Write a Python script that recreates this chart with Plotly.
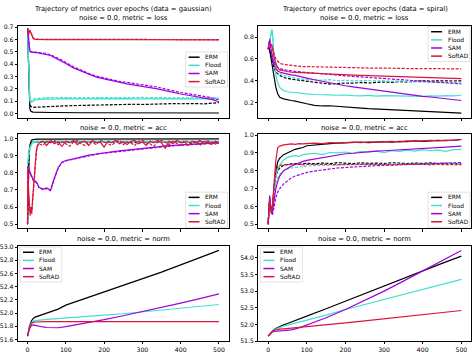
import plotly.graph_objects as go

W, H = 474, 353
FONT = "DejaVu Sans"

METHODS = ["ERM", "Flood", "SAM", "SoftAD"]
COLORS = {"ERM": "#000000", "Flood": "#40E0D0", "SAM": "#9F00DF", "SoftAD": "#DC143C"}

# ---------------- epoch grids ----------------
EPOCHS = [0, 2, 4, 6, 8, 10, 12, 15, 20, 25, 30, 40, 50, 60, 70, 80, 90, 100, 120, 140,
          160, 180, 200, 220, 240, 260, 280, 300, 320, 340, 360, 380, 400, 420, 440, 460, 480, 500]
EPOCHS_FINE = [0, 1, 3, 5, 7, 9, 11, 13, 15, 18, 20, 23, 26] + list(range(30, 501, 10))
EPOCHS_NORM = [0, 5, 10, 15, 20, 30, 40, 50, 60, 80, 100, 150, 200, 250, 300, 350, 400, 450, 500]
X_TICKS = [0, 100, 200, 300, 400, 500]

# ---------------- gaussian / loss ----------------
A_ERM_train = [0.69,0.42,0.12,0.04,0.022,0.016,0.013,0.011,0.010,0.010,0.009,0.009,0.008,0.008,0.008,0.007,0.007,0.007,0.007,0.006,0.006,0.006,0.006,0.006,0.005,0.005,0.005,0.005,0.005,0.005,0.005,0.005,0.005,0.004,0.004,0.004,0.004,0.004]
A_ERM_test = [0.69,0.44,0.15,0.08,0.06,0.053,0.05,0.05,0.051,0.052,0.053,0.055,0.056,0.058,0.057,0.06,0.061,0.062,0.064,0.066,0.065,0.068,0.07,0.072,0.071,0.074,0.075,0.073,0.076,0.078,0.077,0.08,0.079,0.081,0.08,0.078,0.082,0.088]
A_Flood_train = [0.69,0.43,0.18,0.1,0.088,0.092,0.098,0.104,0.11,0.113,0.115,0.117,0.118,0.117,0.119,0.118,0.119,0.12,0.119,0.12,0.118,0.12,0.12,0.119,0.12,0.121,0.119,0.12,0.12,0.119,0.12,0.121,0.119,0.12,0.118,0.117,0.118,0.118]
A_Flood_test = [0.69,0.44,0.2,0.11,0.098,0.104,0.11,0.115,0.12,0.123,0.125,0.127,0.128,0.127,0.129,0.128,0.13,0.128,0.129,0.128,0.13,0.128,0.129,0.128,0.13,0.128,0.129,0.13,0.128,0.128,0.127,0.129,0.127,0.126,0.128,0.126,0.127,0.127]
A_SAM_train = [0.69,0.6,0.53,0.505,0.5,0.498,0.497,0.495,0.494,0.493,0.49,0.487,0.482,0.47,0.455,0.44,0.425,0.405,0.37,0.345,0.315,0.295,0.28,0.265,0.25,0.24,0.23,0.222,0.21,0.2,0.185,0.17,0.158,0.148,0.138,0.13,0.115,0.095]
A_SAM_test = [0.69,0.61,0.54,0.51,0.503,0.5,0.5,0.498,0.497,0.496,0.494,0.49,0.487,0.476,0.462,0.447,0.432,0.413,0.378,0.352,0.323,0.303,0.288,0.274,0.26,0.252,0.243,0.236,0.225,0.214,0.198,0.183,0.17,0.16,0.15,0.142,0.128,0.11]
A_SoftAD_train = [0.69,0.635,0.655,0.672,0.66,0.64,0.622,0.608,0.601,0.6,0.6,0.6,0.599,0.6,0.6,0.599,0.6,0.6,0.6,0.599,0.6,0.6,0.6,0.599,0.6,0.6,0.6,0.6,0.599,0.6,0.6,0.6,0.599,0.6,0.6,0.598,0.598,0.597]
A_SoftAD_test = [0.69,0.64,0.66,0.675,0.662,0.642,0.624,0.61,0.603,0.602,0.602,0.601,0.601,0.602,0.601,0.601,0.602,0.601,0.602,0.601,0.601,0.602,0.601,0.601,0.602,0.601,0.601,0.602,0.601,0.601,0.602,0.601,0.601,0.601,0.6,0.6,0.6,0.599]

# ---------------- spiral / loss ----------------
B_ERM_train = [0.69,0.7,0.68,0.64,0.6,0.57,0.53,0.45,0.34,0.28,0.25,0.235,0.225,0.22,0.215,0.205,0.2,0.19,0.175,0.17,0.172,0.165,0.158,0.155,0.15,0.145,0.142,0.138,0.135,0.132,0.13,0.126,0.122,0.12,0.118,0.115,0.112,0.105]
B_ERM_test = [0.69,0.7,0.68,0.65,0.62,0.59,0.56,0.52,0.48,0.46,0.45,0.43,0.42,0.415,0.41,0.405,0.4,0.4,0.39,0.375,0.37,0.375,0.38,0.378,0.385,0.38,0.388,0.39,0.386,0.392,0.39,0.395,0.4,0.398,0.402,0.4,0.398,0.4]
B_Flood_train = [0.69,0.72,0.76,0.8,0.85,0.87,0.8,0.62,0.45,0.38,0.34,0.31,0.3,0.295,0.29,0.285,0.28,0.28,0.275,0.27,0.272,0.268,0.27,0.265,0.262,0.266,0.26,0.264,0.262,0.258,0.262,0.26,0.258,0.262,0.26,0.265,0.263,0.268]
B_Flood_test = [0.69,0.72,0.76,0.8,0.84,0.86,0.8,0.64,0.53,0.49,0.47,0.45,0.44,0.43,0.425,0.42,0.415,0.41,0.41,0.405,0.41,0.4,0.405,0.4,0.402,0.398,0.4,0.4,0.395,0.398,0.392,0.39,0.388,0.385,0.386,0.382,0.384,0.38]
B_SAM_train = [0.69,0.74,0.78,0.72,0.66,0.62,0.59,0.55,0.51,0.49,0.48,0.47,0.46,0.455,0.45,0.44,0.435,0.425,0.41,0.395,0.385,0.37,0.355,0.345,0.335,0.325,0.315,0.305,0.295,0.285,0.275,0.268,0.258,0.252,0.245,0.238,0.232,0.22]
B_SAM_test = [0.69,0.74,0.77,0.72,0.67,0.63,0.6,0.57,0.54,0.52,0.51,0.5,0.495,0.49,0.485,0.48,0.478,0.475,0.47,0.462,0.458,0.452,0.445,0.44,0.435,0.43,0.425,0.418,0.412,0.408,0.402,0.398,0.392,0.388,0.385,0.38,0.377,0.372]
B_SoftAD_train = [0.69,0.7,0.71,0.72,0.73,0.72,0.68,0.62,0.56,0.52,0.5,0.49,0.485,0.48,0.478,0.475,0.472,0.47,0.468,0.465,0.462,0.458,0.455,0.452,0.45,0.448,0.446,0.442,0.44,0.44,0.438,0.436,0.435,0.432,0.43,0.428,0.426,0.42]
B_SoftAD_test = [0.69,0.7,0.71,0.72,0.73,0.72,0.69,0.65,0.6,0.58,0.56,0.55,0.545,0.54,0.535,0.532,0.53,0.53,0.528,0.525,0.524,0.522,0.52,0.52,0.518,0.516,0.515,0.516,0.514,0.512,0.513,0.511,0.51,0.512,0.51,0.508,0.51,0.508]

# ---------------- gaussian / acc ----------------
C_ERM_train = [0.5,0.78,0.92,0.96,0.98,0.99,0.993,0.995,0.996,0.997,0.997,0.998,0.998,0.997,0.998,0.998,0.999,0.998,0.999,0.998,0.999,0.999,0.998,0.999,0.999,0.998,0.999,0.999,0.999,0.998,0.999,0.999,0.999,0.999,0.998,0.999,0.999,0.999]
C_ERM_test = [0.5,0.76,0.9,0.95,0.965,0.975,0.978,0.98,0.98,0.982,0.979,0.981,0.98,0.978,0.982,0.98,0.979,0.981,0.98,0.982,0.978,0.98,0.981,0.979,0.982,0.98,0.978,0.981,0.98,0.979,0.982,0.98,0.981,0.978,0.98,0.982,0.979,0.98]
C_Flood_train = [0.85,0.9,0.93,0.95,0.96,0.97,0.975,0.98,0.984,0.985,0.986,0.985,0.986,0.985,0.986,0.987,0.985,0.986,0.986,0.985,0.987,0.986,0.985,0.986,0.987,0.985,0.986,0.986,0.985,0.987,0.986,0.985,0.986,0.987,0.986,0.985,0.986,0.986]
C_Flood_test = [0.85,0.89,0.92,0.94,0.955,0.965,0.97,0.975,0.978,0.98,0.98,0.979,0.981,0.98,0.978,0.98,0.981,0.979,0.98,0.978,0.981,0.98,0.979,0.98,0.981,0.978,0.98,0.979,0.981,0.98,0.98,0.979,0.981,0.98,0.978,0.98,0.981,0.98]
C_SAM_train = [0.84,0.83,0.815,0.8,0.79,0.78,0.77,0.758,0.752,0.74,0.715,0.705,0.712,0.698,0.77,0.83,0.862,0.872,0.882,0.893,0.903,0.91,0.918,0.922,0.928,0.932,0.938,0.942,0.948,0.952,0.958,0.96,0.963,0.966,0.969,0.972,0.974,0.976]
C_SAM_test = [0.84,0.83,0.812,0.798,0.788,0.778,0.768,0.756,0.75,0.738,0.712,0.702,0.708,0.696,0.765,0.826,0.86,0.87,0.88,0.89,0.9,0.908,0.915,0.92,0.926,0.93,0.935,0.94,0.945,0.95,0.955,0.958,0.961,0.964,0.967,0.97,0.972,0.974]
C_SoftAD_train = [0.5,0.83,0.68,0.58,0.56,0.6,0.57,0.64,0.7,0.8,0.86,0.93,0.96,
                  0.975,0.985,0.96,0.99,0.97,0.98,0.955,0.985,0.975,0.99,0.965,0.98,0.985,0.96,0.99,0.975,0.98,0.95,0.985,0.975,
                  0.99,0.97,0.98,0.965,0.985,0.99,0.97,0.98,0.96,0.985,0.975,0.99,0.975,0.945,0.985,0.97,0.99,0.975,0.98,0.96,
                  0.985,0.975,0.99,0.97,0.98,0.965,0.985,0.975]
C_SoftAD_test = [0.5,0.82,0.66,0.57,0.55,0.59,0.56,0.62,0.69,0.79,0.85,0.92,0.955,
                 0.97,0.96,0.985,0.975,0.99,0.965,0.98,0.97,0.955,0.98,0.99,0.97,0.96,0.985,0.975,0.965,0.99,0.98,0.97,0.96,
                 0.98,0.99,0.965,0.98,0.975,0.96,0.985,0.99,0.975,0.97,0.955,0.98,0.99,0.975,0.965,0.985,0.97,0.96,0.99,0.98,
                 0.97,0.985,0.96,0.98,0.99,0.975,0.965,0.985]

# ---------------- spiral / acc ----------------
D_ERM_train = [0.5,0.6,0.63,0.6,0.57,0.58,0.62,0.7,0.8,0.85,0.87,0.89,0.9,0.91,0.92,0.925,0.93,0.94,0.945,0.95,0.952,0.955,0.957,0.955,0.96,0.958,0.962,0.963,0.96,0.965,0.963,0.967,0.965,0.968,0.97,0.968,0.972,0.975]
D_ERM_test = [0.5,0.6,0.63,0.6,0.57,0.58,0.62,0.69,0.77,0.8,0.815,0.83,0.835,0.838,0.84,0.836,0.84,0.842,0.838,0.843,0.84,0.845,0.842,0.84,0.844,0.841,0.843,0.84,0.845,0.842,0.84,0.843,0.841,0.844,0.84,0.842,0.839,0.838]
D_Flood_train = [0.5,0.58,0.62,0.59,0.56,0.57,0.6,0.68,0.77,0.81,0.83,0.86,0.875,0.88,0.885,0.88,0.89,0.893,0.898,0.89,0.902,0.9,0.905,0.898,0.908,0.905,0.91,0.902,0.912,0.908,0.915,0.91,0.918,0.912,0.915,0.908,0.918,0.92]
D_Flood_test = [0.5,0.58,0.62,0.59,0.56,0.57,0.6,0.66,0.73,0.76,0.78,0.8,0.81,0.815,0.818,0.822,0.825,0.826,0.828,0.83,0.832,0.833,0.834,0.833,0.835,0.836,0.834,0.836,0.837,0.835,0.838,0.837,0.836,0.838,0.839,0.838,0.84,0.84]
D_SAM_train = [0.5,0.62,0.66,0.61,0.57,0.56,0.58,0.63,0.7,0.74,0.77,0.8,0.815,0.825,0.835,0.845,0.852,0.858,0.865,0.875,0.882,0.888,0.895,0.898,0.903,0.905,0.91,0.912,0.915,0.918,0.92,0.922,0.925,0.927,0.93,0.932,0.935,0.938]
D_SAM_test = [0.5,0.62,0.65,0.6,0.56,0.55,0.56,0.6,0.65,0.68,0.7,0.725,0.745,0.76,0.77,0.778,0.785,0.79,0.798,0.805,0.81,0.815,0.818,0.822,0.825,0.826,0.828,0.83,0.832,0.833,0.834,0.835,0.836,0.838,0.84,0.842,0.844,0.846]
D_SoftAD_train = [0.5,0.62,0.64,0.6,0.57,0.58,0.62,0.72,0.86,0.93,0.938,0.945,0.948,0.95,0.948,0.952,0.95,0.953,0.955,0.952,0.957,0.955,0.958,0.96,0.957,0.962,0.96,0.963,0.965,0.962,0.967,0.965,0.968,0.97,0.968,0.972,0.97,0.975]
D_SoftAD_test = [0.5,0.62,0.64,0.6,0.57,0.58,0.62,0.7,0.8,0.825,0.83,0.833,0.835,0.834,0.836,0.835,0.833,0.836,0.835,0.834,0.836,0.835,0.834,0.836,0.835,0.833,0.836,0.835,0.834,0.835,0.836,0.834,0.835,0.833,0.836,0.834,0.835,0.834]

# ---------------- norms ----------------
E_ERM = [51.65,51.8,51.88,51.92,51.94,51.96,51.98,52.0,52.02,52.06,52.12,52.22,52.32,52.41,52.51,52.62,52.73,52.84,52.95]
E_Flood = [51.65,51.79,51.85,51.875,51.885,51.895,51.9,51.905,51.91,51.92,51.93,51.95,51.97,51.99,52.02,52.04,52.07,52.1,52.13]
E_SAM = [51.65,51.76,51.81,51.82,51.815,51.8,51.79,51.782,51.777,51.778,51.795,51.845,51.9,51.96,52.02,52.08,52.15,52.22,52.29]
E_SoftAD = [51.65,51.78,51.84,51.86,51.865,51.87,51.87,51.87,51.87,51.87,51.87,51.87,51.87,51.87,51.87,51.87,51.87,51.87,51.87]
F_ERM = [51.65,51.72,51.79,51.84,51.88,51.94,51.99,52.03,52.07,52.16,52.25,52.47,52.7,52.92,53.15,53.38,53.6,53.83,54.05]
F_Flood = [51.65,51.72,51.79,51.83,51.86,51.91,51.95,51.98,52.01,52.07,52.12,52.28,52.45,52.6,52.75,52.9,53.05,53.2,53.35]
F_SAM = [51.65,51.72,51.77,51.79,51.8,51.81,51.815,51.82,51.84,51.9,51.99,52.2,52.45,52.72,53.0,53.3,53.6,53.92,54.22]
F_SoftAD = [51.65,51.72,51.78,51.82,51.84,51.86,51.87,51.88,51.89,51.92,51.95,52.0,52.05,52.11,52.17,52.23,52.29,52.36,52.42]

TITLE_TOP = ["Trajectory of metrics over epochs (data = gaussian)",
             "Trajectory of metrics over epochs (data = spiral)"]
ROW_TITLES = ["noise = 0.0, metric = loss", "noise = 0.0, metric = acc", "noise = 0.0, metric = norm"]

# ---------------- layout geometry (pixels) ----------------
COL_PX = [(17, 228), (258, 471)]
ROW_PX = [(23, 117), (134, 230), (248, 345)]

panels = [
    dict(col=0, row=0, yr=[-0.034, 0.713], dt=0.1, leg=(185, 50), series=[
        ("ERM", EPOCHS, A_ERM_train, A_ERM_test), ("Flood", EPOCHS, A_Flood_train, A_Flood_test),
        ("SAM", EPOCHS, A_SAM_train, A_SAM_test), ("SoftAD", EPOCHS, A_SoftAD_train, A_SoftAD_test)]),
    dict(col=1, row=0, yr=[0.063, 0.905], dt=0.2, leg=(428, 24), series=[
        ("ERM", EPOCHS, B_ERM_train, B_ERM_test), ("Flood", EPOCHS, B_Flood_train, B_Flood_test),
        ("SAM", EPOCHS, B_SAM_train, B_SAM_test), ("SoftAD", EPOCHS, B_SoftAD_train, B_SoftAD_test)]),
    dict(col=0, row=1, yr=[0.475, 1.025], dt=0.1, leg=(185, 193), series=[
        ("ERM", EPOCHS, C_ERM_train, C_ERM_test), ("Flood", EPOCHS, C_Flood_train, C_Flood_test),
        ("SAM", EPOCHS, C_SAM_train, C_SAM_test), ("SoftAD", EPOCHS_FINE, C_SoftAD_train, C_SoftAD_test)]),
    dict(col=1, row=1, yr=[0.476, 1.004], dt=0.1, leg=(428, 193), series=[
        ("ERM", EPOCHS, D_ERM_train, D_ERM_test), ("Flood", EPOCHS, D_Flood_train, D_Flood_test),
        ("SAM", EPOCHS, D_SAM_train, D_SAM_test), ("SoftAD", EPOCHS, D_SoftAD_train, D_SoftAD_test)]),
    dict(col=0, row=2, yr=[51.575, 53.015], dt=0.2, leg=(19, 249), series=[
        ("ERM", EPOCHS_NORM, E_ERM, None), ("Flood", EPOCHS_NORM, E_Flood, None),
        ("SAM", EPOCHS_NORM, E_SAM, None), ("SoftAD", EPOCHS_NORM, E_SoftAD, None)]),
    dict(col=1, row=2, yr=[51.5, 54.35], dt=0.5, leg=(260, 249), series=[
        ("ERM", EPOCHS_NORM, F_ERM, None), ("Flood", EPOCHS_NORM, F_Flood, None),
        ("SAM", EPOCHS_NORM, F_SAM, None), ("SoftAD", EPOCHS_NORM, F_SoftAD, None)]),
]


def px(x):
    return x / W


def py(y):
    return 1 - y / H


fig = go.Figure()
shapes, annotations = [], []
LINE_W = 1.2
DASH = "3px,1.5px"
TICK_FONT = dict(family=FONT, size=6.2, color="black")
LEG_FONT = dict(family=FONT, size=5.9, color="black")

for i, p in enumerate(panels, start=1):
    suffix = "" if i == 1 else str(i)
    xa, ya = "x" + suffix, "y" + suffix
    for name, xs, train, test in p["series"]:
        for ys, dash in ((train, None), (test, DASH)):
            if ys is None:
                continue
            if len(ys) != len(xs):
                raise ValueError(f"length mismatch panel {i} {name}: {len(ys)} vs {len(xs)}")
            fig.add_trace(go.Scatter(x=xs, y=ys, mode="lines", xaxis=xa, yaxis=ya,
                                     line=dict(color=COLORS[name], width=LINE_W, dash=dash),
                                     hoverinfo="skip", showlegend=False))
    c0, c1 = COL_PX[p["col"]]
    r0, r1 = ROW_PX[p["row"]]
    fig.layout["xaxis" + suffix] = dict(
        domain=[px(c0), px(c1)], range=[-25, 525], anchor=ya, tickvals=X_TICKS,
        showticklabels=(p["row"] == 2), ticks="outside", ticklen=2.4, tickwidth=0.6,
        tickcolor="black", showline=True, mirror=True, linecolor="black", linewidth=0.7,
        showgrid=False, zeroline=False, tickfont=TICK_FONT, fixedrange=True)
    fig.layout["yaxis" + suffix] = dict(
        domain=[py(r1), py(r0)], range=p["yr"], anchor=xa, dtick=p["dt"], tick0=0,
        tickformat=".1f", ticks="outside", ticklen=2.4, tickwidth=0.6, tickcolor="black",
        showline=True, mirror=True, linecolor="black", linewidth=0.7, showgrid=False,
        zeroline=False, tickfont=TICK_FONT, fixedrange=True)

    # legend box (drawn as decoration)
    lx, ly = p["leg"]
    bw, step = 42, 8.3
    bh = 4 * step + 2.5
    shapes.append(dict(type="rect", xref="paper", yref="paper", x0=px(lx), x1=px(lx + bw),
                       y0=py(ly + bh), y1=py(ly), line=dict(color="#d5d5d5", width=0.7),
                       fillcolor="rgba(255,255,255,0.85)", layer="above"))
    for k, name in enumerate(METHODS):
        yy = ly + 5.3 + k * step
        shapes.append(dict(type="line", xref="paper", yref="paper", x0=px(lx + 3), x1=px(lx + 14),
                           y0=py(yy), y1=py(yy), line=dict(color=COLORS[name], width=1.5),
                           layer="above"))
        annotations.append(dict(text=name, x=px(lx + 17.5), y=py(yy), xref="paper", yref="paper",
                                xanchor="left", yanchor="middle", showarrow=False, font=LEG_FONT))

# titles
TITLE_FONT = dict(family=FONT, size=6.8, color="black")
for col in range(2):
    c0, c1 = COL_PX[col]
    cx = px((c0 + c1) / 2)
    annotations.append(dict(text=TITLE_TOP[col], x=cx, y=py(6), xref="paper", yref="paper",
                            xanchor="center", yanchor="middle", showarrow=False, font=TITLE_FONT))
    for r, yc in enumerate([14.8, 127.5, 240.8]):
        annotations.append(dict(text=ROW_TITLES[r], x=cx, y=py(yc), xref="paper", yref="paper",
                                xanchor="center", yanchor="middle", showarrow=False, font=TITLE_FONT))

fig.update_layout(width=W, height=H, margin=dict(l=0, r=0, t=0, b=0),
                  paper_bgcolor="white", plot_bgcolor="white", showlegend=False,
                  font=dict(family=FONT, size=6, color="black"),
                  shapes=shapes, annotations=annotations)

fig.write_html("out.html")
